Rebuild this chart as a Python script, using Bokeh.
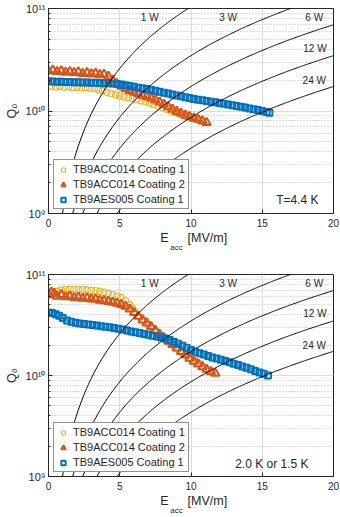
import numpy as np
from bokeh.plotting import figure
from bokeh.models import Range1d, FixedTicker, Label, Legend, LegendItem, LinearAxis
from bokeh.layouts import column
from bokeh.embed import file_html
from bokeh.resources import INLINE

# ---------------- data (Q0 in units of 1e10) ----------------
# T = 4.4 K
E_ACC014_C1_44 = [0.2, 0.5, 0.8, 1.1, 1.4, 1.7, 2.0, 2.3, 2.6, 2.9, 3.2, 3.5, 3.8, 4.1, 4.4, 4.7,
                  5.0, 5.3, 5.6, 5.9, 6.2, 6.5, 6.8, 7.1, 7.4, 7.7, 8.0, 8.3, 8.6, 8.9, 9.2, 9.5,
                  9.8, 10.1, 10.4, 10.7]
Q_ACC014_C1_44 = [1.75, 1.72, 1.74, 1.71, 1.72, 1.70, 1.71, 1.69, 1.70, 1.68, 1.66, 1.62, 1.57, 1.52, 1.48, 1.44,
                  1.41, 1.38, 1.35, 1.32, 1.29, 1.26, 1.23, 1.20, 1.16, 1.12, 1.08, 1.04, 1.00, 0.97, 0.94, 0.91,
                  0.88, 0.86, 0.84, 0.81]

E_ACC014_C2_44 = [0.0, 0.3, 0.6, 0.9, 1.2, 1.5, 1.8, 2.1, 2.4, 2.7, 3.0, 3.3, 3.6, 3.9, 4.2, 4.5,
                  4.8, 5.1, 5.4, 5.7, 6.0, 6.3, 6.6, 6.9, 7.2, 7.5, 7.8, 8.1, 8.4, 8.7, 9.0, 9.3,
                  9.6, 9.9, 10.2, 10.5, 10.8, 11.1]
Q_ACC014_C2_44 = [2.45, 2.50, 2.42, 2.46, 2.38, 2.42, 2.36, 2.40, 2.32, 2.36, 2.30, 2.33, 2.26, 2.28, 2.18, 2.00,
                  1.85, 1.74, 1.66, 1.58, 1.52, 1.47, 1.42, 1.38, 1.34, 1.28, 1.22, 1.16, 1.10, 1.04, 0.99, 0.95,
                  0.91, 0.88, 0.85, 0.83, 0.80, 0.77]

E_AES005_C1_44 = [0.0, 0.3, 0.6, 0.9, 1.2, 1.5, 1.8, 2.1, 2.4, 2.7, 3.0, 3.3, 3.6, 3.9, 4.2, 4.5,
                  4.8, 5.1, 5.4, 5.7, 6.0, 6.3, 6.6, 6.9, 7.2, 7.5, 7.8, 8.1, 8.4, 8.7, 9.0, 9.3,
                  9.6, 9.9, 10.2, 10.5, 10.8, 11.1, 11.4, 11.7, 12.0, 12.3, 12.6, 12.9, 13.2, 13.5,
                  13.8, 14.1, 14.4, 14.7, 15.0, 15.3, 15.5]
Q_AES005_C1_44 = [1.95, 1.94, 1.93, 1.93, 1.92, 1.92, 1.91, 1.91, 1.90, 1.90, 1.89, 1.89, 1.88, 1.87, 1.86, 1.85,
                  1.83, 1.81, 1.78, 1.75, 1.72, 1.69, 1.67, 1.64, 1.61, 1.58, 1.54, 1.51, 1.48, 1.45, 1.42, 1.39,
                  1.36, 1.34, 1.31, 1.29, 1.27, 1.25, 1.23, 1.22, 1.20, 1.18, 1.16, 1.14, 1.12, 1.10,
                  1.08, 1.06, 1.04, 1.02, 1.00, 0.98, 0.96]

# T = 2.0 K or 1.5 K
E_ACC014_C1_20 = [0.6, 0.9, 1.2, 1.5, 1.8, 2.1, 2.4, 2.7, 3.0, 3.3, 3.6, 3.9, 4.2, 4.5, 4.8, 5.1,
                  5.4, 5.7, 5.9, 6.1, 6.4, 6.7, 7.0, 7.3, 7.6, 7.9, 8.2, 8.5, 8.8, 9.1, 9.4, 9.7,
                  10.0, 10.3, 10.6]
Q_ACC014_C1_20 = [6.8, 7.0, 7.1, 7.15, 7.15, 7.1, 7.1, 7.0, 6.95, 6.9, 6.8, 6.65, 6.5, 6.3, 6.1, 5.9,
                  5.5, 5.0, 4.6, 4.2, 3.8, 3.5, 3.2, 2.95, 2.7, 2.5, 2.3, 2.13, 1.97, 1.82, 1.68, 1.56,
                  1.46, 1.38, 1.32]

E_ACC014_C2_20 = [0.0, 0.2, 0.4, 0.6, 0.9, 1.2, 1.5, 1.8, 2.1, 2.4, 2.7, 3.0, 3.3, 3.6, 3.9, 4.2,
                  4.5, 4.8, 5.1, 5.4, 5.7, 6.0, 6.3, 6.6, 6.9, 7.2, 7.5, 7.8, 8.1, 8.4, 8.7, 9.0,
                  9.3, 9.6, 9.9, 10.2, 10.5, 10.8, 11.1, 11.4, 11.7]
Q_ACC014_C2_20 = [6.3, 6.7, 6.5, 6.1, 6.3, 6.0, 6.1, 5.9, 5.95, 5.8, 5.85, 5.7, 5.7, 5.55, 5.5, 5.4,
                  5.3, 5.2, 5.05, 4.85, 4.55, 4.2, 3.85, 3.55, 3.3, 3.05, 2.8, 2.55, 2.35, 2.18, 2.02, 1.87,
                  1.73, 1.6, 1.48, 1.38, 1.3, 1.22, 1.15, 1.09, 1.05]

E_AES005_C1_20 = [0.0, 0.25, 0.5, 0.75, 1.0, 1.3, 1.6, 1.9, 2.2, 2.5, 2.8, 3.1, 3.4, 3.7, 4.0, 4.3,
                  4.6, 4.9, 5.2, 5.5, 5.8, 6.1, 6.4, 6.7, 7.0, 7.3, 7.6, 7.9, 8.2, 8.5, 8.8, 9.1,
                  9.4, 9.7, 10.0, 10.3, 10.6, 10.9, 11.2, 11.5, 11.8, 12.1, 12.4, 12.7, 13.0, 13.3,
                  13.6, 13.9, 14.2, 14.5, 14.8, 15.1, 15.4]
Q_AES005_C1_20 = [4.2, 4.15, 4.05, 3.9, 3.7, 3.5, 3.4, 3.33, 3.28, 3.24, 3.2, 3.16, 3.12, 3.08, 3.04, 3.0,
                  2.95, 2.9, 2.85, 2.79, 2.73, 2.68, 2.63, 2.58, 2.53, 2.48, 2.43, 2.38, 2.32, 2.24, 2.15, 2.06,
                  1.97, 1.88, 1.79, 1.72, 1.66, 1.61, 1.56, 1.51, 1.47, 1.43, 1.39, 1.35, 1.31, 1.27,
                  1.23, 1.19, 1.15, 1.11, 1.07, 1.04, 1.0]

SERIES_NAMES = ["TB9ACC014 Coating 1", "TB9ACC014 Coating 2", "TB9AES005 Coating 1"]
POWER_LEVELS = [1, 3, 6, 12, 24]          # W, iso-dissipation lines
CAVITY_LENGTH = 1.038                      # m
R_OVER_Q = 1036.0                          # Ohm
X_TICKS = [0, 5, 10, 15, 20]
Y_TICKS = [1e9, 1e10, 1e11]
Y_TICK_LABELS = ["10\u2079", "10\u00b9\u2070", "10\u00b9\u00b9"]
Y_MINOR = [k * 10.0 ** d for d in (9, 10) for k in range(2, 10)]

FONT = "Liberation Sans"
YELLOW, ORANGE, BLUE = "#EDB120", "#D95319", "#0072BD"
AX = "#262626"

# label positions (E, log10 Q0)
PW_LABEL_POS = [(7.1, 10.91), (12.6, 10.91), (18.65, 10.91), (18.7, 10.61), (18.65, 10.30)]
# x-axis title pieces: centre positions along E
XT_E, XT_SUB, XT_UNIT = 8.13, 8.98, 11.15


def panel(series, temp_text, temp_x, border_top, frame_h, border_bottom, border_left):
    p = figure(width=340, height=border_top + frame_h + border_bottom, y_axis_type="log",
               x_range=Range1d(0, 20), y_range=Range1d(1e9, 1e11),
               output_backend="svg", toolbar_location=None,
               min_border_top=border_top, min_border_bottom=border_bottom,
               min_border_left=border_left, min_border_right=7)
    p.outline_line_color = AX
    p.outline_line_alpha = 1
    p.background_fill_color = "white"

    # grids
    p.xgrid.ticker = FixedTicker(ticks=[5, 10, 15])
    p.xgrid.grid_line_color = "#dcdcdc"
    p.ygrid.ticker = FixedTicker(ticks=[1e10], minor_ticks=Y_MINOR)
    p.ygrid.grid_line_color = "#dcdcdc"
    p.ygrid.minor_grid_line_color = "#bdbdbd"
    p.ygrid.minor_grid_line_dash = "1 2"

    # x axis
    xa = p.xaxis[0]
    xa.ticker = FixedTicker(ticks=X_TICKS)
    xa.major_tick_in = 4
    xa.major_tick_out = 0
    xa.minor_tick_line_color = None
    xa.axis_line_color = AX
    xa.major_tick_line_color = AX
    xa.major_label_text_font = FONT
    xa.major_label_text_font_size = "10px"
    xa.major_label_text_color = AX
    xa.major_label_standoff = 5

    # x axis title built from two extra (line-less) axes: "E  [MV/m]" and subscript "acc"
    ax2 = LinearAxis(ticker=FixedTicker(ticks=[XT_E, XT_UNIT]),
                     major_label_overrides={XT_E: "E", XT_UNIT: "[MV/m]"},
                     axis_line_color=None, major_tick_line_color=None, minor_tick_line_color=None,
                     major_tick_in=0, major_tick_out=0, minor_tick_out=0,
                     major_label_text_font=FONT, major_label_text_font_size="12.5px",
                     major_label_text_color=AX, major_label_standoff=1)
    ax3 = LinearAxis(ticker=FixedTicker(ticks=[XT_SUB]),
                     major_label_overrides={XT_SUB: "acc"},
                     axis_line_color=None, major_tick_line_color=None, minor_tick_line_color=None,
                     major_tick_in=0, major_tick_out=0, minor_tick_out=0,
                     major_label_text_font=FONT, major_label_text_font_size="8px",
                     major_label_text_color=AX, major_label_standoff=-5)
    p.add_layout(ax2, "below")
    p.add_layout(ax3, "below")

    # y axis
    ya = p.yaxis[0]
    ya.ticker = FixedTicker(ticks=Y_TICKS, minor_ticks=Y_MINOR)
    ya.major_label_overrides = dict(zip(Y_TICKS, Y_TICK_LABELS))
    ya.major_tick_in = 4
    ya.major_tick_out = 0
    ya.minor_tick_in = 2
    ya.minor_tick_out = 0
    ya.axis_line_color = AX
    ya.major_tick_line_color = AX
    ya.minor_tick_line_color = AX
    ya.major_label_text_font = FONT
    ya.major_label_text_font_size = "11px"
    ya.major_label_text_color = AX
    ya.major_label_standoff = 3
    ya.axis_label = "Q\u2080"
    ya.axis_label_text_font = FONT
    ya.axis_label_text_font_size = "12.5px"
    ya.axis_label_text_font_style = "normal"
    ya.axis_label_text_color = AX
    ya.axis_label_standoff = 4

    # data
    (e1, q1), (e2, q2), (e3, q3) = series
    r1 = p.scatter(e1, [q * 1e10 for q in q1], marker="circle", size=6.5,
                   line_color=YELLOW, fill_color=None, line_width=1.1)
    r2 = p.scatter(e2, [q * 1e10 for q in q2], marker="triangle", size=8.5,
                   line_color=ORANGE, fill_color=None, line_width=2)
    r3 = p.scatter(e3, [q * 1e10 for q in q3], marker="square", size=6,
                   line_color=BLUE, fill_color=None, line_width=2)

    # iso-power lines
    E = np.linspace(0.3, 20, 300)
    for P in POWER_LEVELS:
        Q = (E * 1e6 * CAVITY_LENGTH) ** 2 / (R_OVER_Q * P)
        p.line(E, Q, line_color="black", line_width=1)
    for P, (xe, lq) in zip(POWER_LEVELS, PW_LABEL_POS):
        p.add_layout(Label(x=xe, y=10 ** lq, text=f"{P} W", text_font=FONT,
                           text_font_size="10px", text_color=AX,
                           text_align="center", text_baseline="middle"))

    # legend
    legend = Legend(items=[LegendItem(label=n, renderers=[r]) for n, r in zip(SERIES_NAMES, [r1, r2, r3])],
                    location=(5, 4), margin=0, padding=3, spacing=3,
                    glyph_width=12, glyph_height=11, label_height=11, label_standoff=4,
                    label_text_font=FONT, label_text_font_size="11px", label_text_color=AX,
                    border_line_color=AX, border_line_width=1, background_fill_alpha=1)
    p.add_layout(legend)

    p.add_layout(Label(x=temp_x, y=1.34e9, text=temp_text, text_font=FONT, text_font_size="12px",
                       text_color=AX, text_align="right", text_baseline="middle"))
    return p


p1 = panel([(E_ACC014_C1_44, Q_ACC014_C1_44), (E_ACC014_C2_44, Q_ACC014_C2_44),
            (E_AES005_C1_44, Q_AES005_C1_44)], "T=4.4 K", 18.95, 8, 205, 45, 46)
p2 = panel([(E_ACC014_C1_20, Q_ACC014_C1_20), (E_ACC014_C2_20, Q_ACC014_C2_20),
            (E_AES005_C1_20, Q_AES005_C1_20)], "2.0 K or 1.5 K", 18.25, 16, 205, 38, 48)

layout = column(p1, p2, spacing=0)
open("out.html", "w").write(file_html(layout, INLINE))
